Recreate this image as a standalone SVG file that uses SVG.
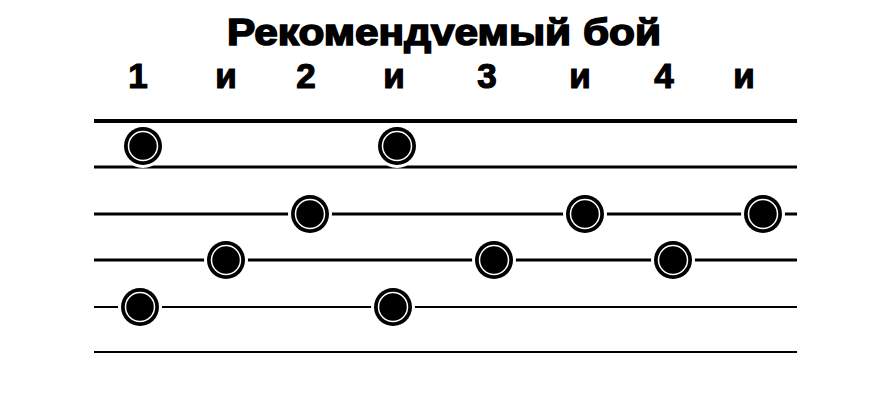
<svg xmlns="http://www.w3.org/2000/svg" width="896" height="400" viewBox="0 0 896 400">
<defs>
<style>
.t{font-family:"Liberation Sans",Arial,sans-serif;font-weight:bold;fill:#000;stroke:#000;text-anchor:middle}
.ln{stroke:#000;stroke-linecap:butt}
</style>
<g id="dot">
<circle r="22" fill="#fff"/>
<circle r="19" fill="#000"/>
<circle r="14.5" fill="#000" stroke="#fff" stroke-width="1.5"/>
</g>
</defs>
<rect width="896" height="400" fill="#fff"/>
<g id="title"><text class="t" x="444" y="45" font-size="37" stroke-width="1.6" textLength="434" lengthAdjust="spacingAndGlyphs">Рекомендvемый бой</text></g>
<g id="counts" class="t" font-size="35" stroke-width="1.2">
<text x="138" y="88">1</text>
<text x="226" y="88">и</text>
<text x="306" y="88">2</text>
<text x="394" y="88">и</text>
<text x="487" y="88">3</text>
<text x="580" y="88">и</text>
<text x="664" y="88">4</text>
<text x="744" y="88">и</text>
</g>
<g id="connectors">
<line class="ln" x1="94" y1="121" x2="797" y2="121" stroke-width="4"/>
<line class="ln" x1="94" y1="167" x2="797" y2="167" stroke-width="3"/>
<line class="ln" x1="94" y1="214" x2="797" y2="214" stroke-width="3"/>
<line class="ln" x1="94" y1="260" x2="797" y2="260" stroke-width="3"/>
<line class="ln" x1="94" y1="307" x2="797" y2="307" stroke-width="2"/>
<line class="ln" x1="94" y1="352" x2="797" y2="352" stroke-width="2"/>
</g>
<g id="d1"><use href="#dot" x="143" y="146"/></g>
<g id="d2"><use href="#dot" x="397" y="146"/></g>
<g id="d3"><use href="#dot" x="310" y="214"/></g>
<g id="d4"><use href="#dot" x="585" y="214"/></g>
<g id="d5"><use href="#dot" x="763" y="214"/></g>
<g id="d6"><use href="#dot" x="226" y="260"/></g>
<g id="d7"><use href="#dot" x="494" y="260"/></g>
<g id="d8"><use href="#dot" x="673" y="260"/></g>
<g id="d9"><use href="#dot" x="140" y="307"/></g>
<g id="d10"><use href="#dot" x="393" y="307"/></g>
</svg>
